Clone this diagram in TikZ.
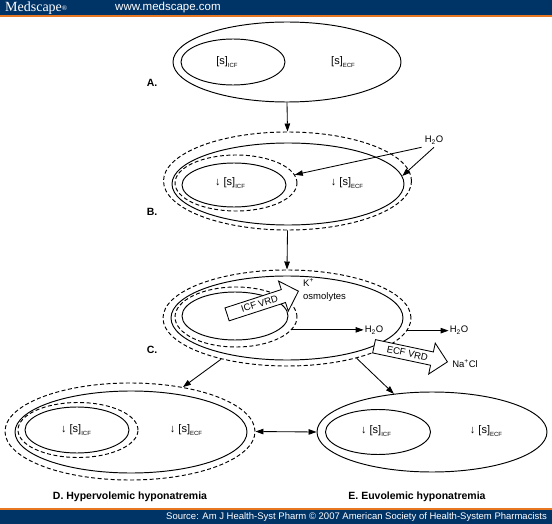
\documentclass[tikz,border=0pt]{standalone}
\usepackage{fontspec}
\setmainfont{Liberation Sans}
\newfontfamily\serifhead{Liberation Serif}
\usetikzlibrary{shapes.geometric,shapes.arrows,arrows.meta,calc}
\definecolor{navy}{RGB}{0,51,102}
\definecolor{morange}{RGB}{232,119,34}
\newcommand\cn[1]{[s]\raisebox{-2.6pt}{\fontsize{6}{6}\selectfont #1}}
\begin{document}
\begin{tikzpicture}[x=1pt,y=-1pt,
  ell/.style={ellipse, draw, line width=0.95pt, inner sep=0pt},
  dell/.style={ell, dash pattern=on 4pt off 2.5pt},
  arr/.style={line width=0.85pt, -{Triangle[length=8pt,width=5.5pt]}},
  darr/.style={line width=0.85pt, {Triangle[length=8pt,width=5.5pt]}-{Triangle[length=8pt,width=5.5pt]}},
  conc/.style={font=\fontsize{11}{12}\selectfont, inner sep=1pt},
  lbl/.style={font=\bfseries\fontsize{10.5}{12}\selectfont, inner sep=1pt},
  smalltxt/.style={font=\fontsize{9.5}{13}\selectfont, inner sep=1pt},
  vrd/.style={single arrow, draw, fill=white, line width=0.85pt,
    font=\fontsize{9.5}{10}\selectfont, single arrow head extend=9pt,
    minimum height=75pt, inner xsep=2pt, inner ysep=3pt}
]
\useasboundingbox (0,0) rectangle (552,524);
% header and footer
\fill[navy] (0,0) rectangle (552,15);
\fill[morange] (0,15) rectangle (552,17.5);
\fill[morange] (0,507.5) rectangle (552,510);
\fill[navy] (0,510) rectangle (552,524);
\node[anchor=west, text=white, font=\serifhead\fontsize{14}{14}\selectfont, inner sep=0pt] (logo) at (5,8) {Medscape\raisebox{0.5pt}{\fontsize{7}{7}\selectfont ®}};
\node[anchor=west, text=white, font=\fontsize{11.5}{12}\selectfont, inner sep=0pt] (url) at (115,8) {www.medscape.com};
\node[anchor=east, text=white, font=\fontsize{9.5}{10}\selectfont, inner sep=0pt] (src) at (547,517) {Source: Am J Health-Syst Pharm © 2007 American Society of Health-System Pharmacists};

% A
\node[ell, minimum width=228pt, minimum height=80pt] (Aout) at (287,62) {};
\node[ell, minimum width=104pt, minimum height=46pt] (Ain) at (233,62) {};
\node[conc] (Aicf) at (227,62) {\cn{ICF}};
\node[conc] (Aecf) at (343,62) {\cn{ECF}};
\node[lbl] (Alab) at (152,83) {A.};

% B
\node[dell, minimum width=248pt, minimum height=98pt] (Bdash) at (287.5,181) {};
\node[ell, minimum width=232pt, minimum height=82pt] (Bout) at (288,184) {};
\node[dell, minimum width=122pt, minimum height=56pt] (Bindash) at (236,183) {};
\node[ell, minimum width=104pt, minimum height=44pt] (Bin) at (234,185) {};
\node[conc] (Bicf) at (230,183) {↓ \cn{ICF}};
\node[conc] (Becf) at (347,183) {↓ \cn{ECF}};
\node[lbl] (Blab) at (152,212) {B.};
\node[smalltxt, inner sep=3pt] (BH2O) at (434,140) {H\textsubscript{2}O};

% C
\node[dell, minimum width=248pt, minimum height=96pt] (Cdash) at (287,318) {};
\node[ell, minimum width=232pt, minimum height=84pt] (Cout) at (287,318) {};
\node[dell, minimum width=122pt, minimum height=60pt] (Cindash) at (236,317) {};
\node[ell, minimum width=106pt, minimum height=48pt] (Cin) at (235,316) {};
\node[lbl] (Clab) at (152,350) {C.};
\node[smalltxt, align=left, anchor=west] (kos) at (302,290) {K\textsuperscript{+}\\osmolytes};
\node[smalltxt] (CH2Oa) at (374,330) {H\textsubscript{2}O};
\node[smalltxt] (CH2Ob) at (459,330) {H\textsubscript{2}O};
\node[smalltxt] (nacl) at (465,364) {Na\textsuperscript{+}Cl};

% D
\node[dell, minimum width=250pt, minimum height=97pt] (Ddash) at (130,431.5) {};
\node[ell, minimum width=232pt, minimum height=82pt] (Dout) at (131,432) {};
\node[dell, minimum width=120pt, minimum height=55pt] (Dindash) at (78,430) {};
\node[ell, minimum width=104pt, minimum height=46pt] (Din) at (77,430) {};
\node[conc] (Dicf) at (76,430) {↓ \cn{ICF}};
\node[conc] (Decf) at (186,430) {↓ \cn{ECF}};
\node[lbl] (Dlab) at (130,497) {D. Hypervolemic hyponatremia};

% E
\node[ell, minimum width=230pt, minimum height=80pt] (Eout) at (432,432) {};
\node[ell, minimum width=105pt, minimum height=45pt] (Ein) at (378,432) {};
\node[conc] (Eicf) at (376,431) {↓ \cn{ICF}};
\node[conc] (Eecf) at (486,431) {↓ \cn{ECF}};
\node[lbl] (Elab) at (417,497) {E. Euvolemic hyponatremia};

% connectors
\draw[arr] (Aout.south) -- (Bdash.north);
\draw[arr] (Bdash.south) -- (Cdash.north);
\draw[arr] (BH2O.south west) -- (Bindash.8);
\draw[arr] (BH2O.south) -- (Bout.4);
\draw[arr] (Cindash.-13) -- (Cindash.-13 -| CH2Oa.west);
\draw[arr] (Cdash.-6) -- (Cdash.-6 -| CH2Ob.west);
\draw[arr] (Cdash.212) -- (Ddash.40);
\draw[arr] (Cdash.330) -- (Eout.135);
\draw[darr] (Ddash.east) -- (Eout.west);

% VRD arrows
\node[vrd, rotate=18, anchor=tip] (icf) at (299,291) {ICF VRD};
\node[vrd, rotate=-12, anchor=tip] (ecf) at (448,362) {ECF VRD};
\end{tikzpicture}
\end{document}
